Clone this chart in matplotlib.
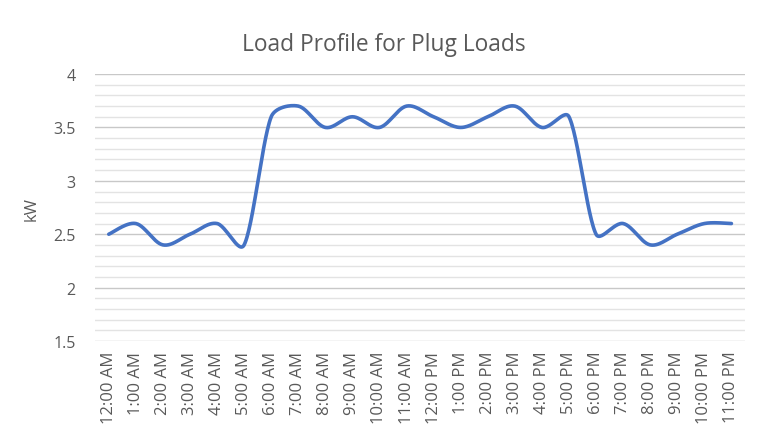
import matplotlib.pyplot as plt
import numpy as np
from matplotlib.ticker import MultipleLocator, FormatStrFormatter

hours = ["12:00 AM", "1:00 AM", "2:00 AM", "3:00 AM", "4:00 AM", "5:00 AM",
         "6:00 AM", "7:00 AM", "8:00 AM", "9:00 AM", "10:00 AM", "11:00 AM",
         "12:00 PM", "1:00 PM", "2:00 PM", "3:00 PM", "4:00 PM", "5:00 PM",
         "6:00 PM", "7:00 PM", "8:00 PM", "9:00 PM", "10:00 PM", "11:00 PM"]
load_kw = [2.5, 2.6, 2.4, 2.5, 2.6, 2.4, 3.6, 3.7, 3.5, 3.6, 3.5, 3.7,
           3.6, 3.5, 3.6, 3.7, 3.5, 3.6, 2.5, 2.6, 2.4, 2.5, 2.6, 2.6]

plt.rcParams['font.family'] = ['Open Sans', 'DejaVu Sans']
grey = '#595959'


def smooth(xs, ys, kx, ky, n=30):
    # spreadsheet-like smoothed line: Catmull-Rom Bezier pieces, with each
    # control arm kept to a third of its segment's on-screen length
    p = np.column_stack([np.asarray(xs, float) * kx, np.asarray(ys, float) * ky])
    m = len(p)
    out_c, in_c = [], []
    for i in range(m):
        a = p[max(i - 1, 0)]
        b = p[min(i + 1, m - 1)]
        arm = (b - a) / 6
        la = np.hypot(*arm)
        d1 = np.hypot(*(p[i] - a))
        d2 = np.hypot(*(b - p[i]))
        f_in = min(1, d1 / 3 / la) if la > 0 else 0
        f_out = min(1, d2 / 3 / la) if la > 0 else 0
        out_c.append(p[i] + arm * f_out)
        in_c.append(p[i] - arm * f_in)
    t = np.linspace(0, 1, n)[:, None]
    pts = []
    for i in range(m - 1):
        p0, c1, c2, p3 = p[i], out_c[i], in_c[i + 1], p[i + 1]
        pts.append((1 - t) ** 3 * p0 + 3 * (1 - t) ** 2 * t * c1
                   + 3 * (1 - t) * t ** 2 * c2 + t ** 3 * p3)
    pts = np.vstack(pts)
    return pts[:, 0] / kx, pts[:, 1] / ky


fig = plt.figure(figsize=(7.68, 4.39), dpi=100)
ax = fig.add_axes([0.124, 0.221, 0.846, 0.608])

x = np.arange(len(hours))
sx, sy = smooth(x, load_kw, 650 / 24, 267 / 2.5)
ax.plot(sx, sy, color='#4472C4', lw=2.6, solid_capstyle='round', zorder=3)

ax.set_xlim(-0.5, len(hours) - 0.5)
ax.set_ylim(1.5, 4)
ax.yaxis.set_major_locator(MultipleLocator(0.5))
ax.yaxis.set_minor_locator(MultipleLocator(0.1))
ax.yaxis.set_major_formatter(FormatStrFormatter('%g'))
ax.grid(which='major', axis='y', color='#c8c8c8', lw=1.0)
ax.grid(which='minor', axis='y', color='#e3e3e3', lw=1.0)
ax.set_axisbelow(True)

ax.set_xticks(x)
ax.set_xticklabels(hours, rotation=90, fontsize=12, color=grey)
ax.tick_params(axis='y', labelsize=11.5, colors=grey, length=0, pad=14)
ax.tick_params(axis='x', length=0, pad=7)
ax.tick_params(which='minor', length=0)
for s in ax.spines.values():
    s.set_visible(False)

ax.set_ylabel('kW', fontsize=12, color=grey)
ax.yaxis.set_label_coords(-0.085, 0.5)
fig.text(0.5, 0.897, 'Load Profile for Plug Loads', fontsize=16.4, color=grey,
         ha='center', va='center')

plt.savefig('out.png', dpi=100)
